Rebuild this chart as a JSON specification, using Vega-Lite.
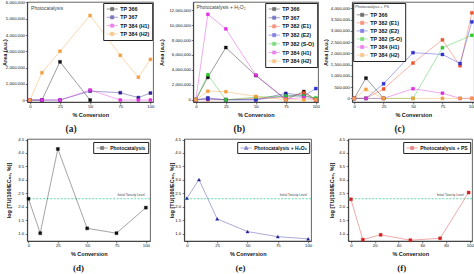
{
  "$schema": "https://vega.github.io/schema/vega-lite/v6.json",
  "padding": {"left": 1.2, "top": 0, "right": 0, "bottom": 0},
  "autosize": {"type": "pad"},
  "background": "white",
  "config": {
    "font": "Liberation Sans",
    "view": {"stroke": "#222", "strokeWidth": 0.7},
    "axis": {"grid": false, "tickCount": 20, "labelOverlap": false, "labelBound": false, "labelFlush": false, "labelFontSize": 4.3, "titleFontSize": 5.5, "titleFontWeight": "bold", "tickSize": 2, "tickWidth": 0.6, "domainWidth": 0.7, "domainColor": "#222", "tickColor": "#222", "labelColor": "#111", "titleColor": "#111", "labelPadding": 0.8, "titlePadding": 0.5},
    "legend": {"strokeColor": "#222", "fillColor": "white", "padding": 2, "symbolSize": 49, "symbolStrokeWidth": 0.7, "symbolOffset": 3, "labelOffset": 4, "labelFontSize": 5.4, "labelFontWeight": "bold", "labelColor": "#111", "rowPadding": 0.3, "titleFontSize": 3.8, "titleFontWeight": "normal", "titleColor": "#444", "titlePadding": 2, "offset": 1, "symbolType": "M-1.6,0H1.6M-0.45,-0.45H0.45V0.45H-0.45Z"},
    "title": {"font": "Liberation Serif", "fontSize": 9.5, "fontWeight": "bold", "color": "#222", "orient": "bottom", "frame": "bounds", "anchor": "middle"}
  },
  "datasets": {
    "area": [
      {"panel": "a", "series": "TP 366", "conv": 0, "area": 0},
      {"panel": "a", "series": "TP 366", "conv": 10, "area": 0},
      {"panel": "a", "series": "TP 366", "conv": 25, "area": 2350000},
      {"panel": "a", "series": "TP 366", "conv": 50, "area": 0},
      {"panel": "a", "series": "TP 367", "conv": 0, "area": 0},
      {"panel": "a", "series": "TP 367", "conv": 10, "area": 0},
      {"panel": "a", "series": "TP 367", "conv": 25, "area": 0},
      {"panel": "a", "series": "TP 367", "conv": 50, "area": 550000},
      {"panel": "a", "series": "TP 367", "conv": 75, "area": 450000},
      {"panel": "a", "series": "TP 367", "conv": 90, "area": 150000},
      {"panel": "a", "series": "TP 367", "conv": 100, "area": 430000},
      {"panel": "a", "series": "TP 384 (H1)", "conv": 0, "area": 0},
      {"panel": "a", "series": "TP 384 (H1)", "conv": 10, "area": 0},
      {"panel": "a", "series": "TP 384 (H1)", "conv": 25, "area": 0},
      {"panel": "a", "series": "TP 384 (H1)", "conv": 50, "area": 620000},
      {"panel": "a", "series": "TP 384 (H1)", "conv": 75, "area": 0},
      {"panel": "a", "series": "TP 384 (H1)", "conv": 90, "area": 0},
      {"panel": "a", "series": "TP 384 (H1)", "conv": 100, "area": 0},
      {"panel": "a", "series": "TP 384 (H2)", "conv": 0, "area": 0},
      {"panel": "a", "series": "TP 384 (H2)", "conv": 10, "area": 1680000},
      {"panel": "a", "series": "TP 384 (H2)", "conv": 25, "area": 3000000},
      {"panel": "a", "series": "TP 384 (H2)", "conv": 50, "area": 5200000},
      {"panel": "a", "series": "TP 384 (H2)", "conv": 75, "area": 2750000},
      {"panel": "a", "series": "TP 384 (H2)", "conv": 90, "area": 1400000},
      {"panel": "a", "series": "TP 384 (H2)", "conv": 100, "area": 2500000},

      {"panel": "b", "series": "TP 366", "conv": 0, "area": 0},
      {"panel": "b", "series": "TP 366", "conv": 10, "area": 3000000},
      {"panel": "b", "series": "TP 366", "conv": 25, "area": 7000000},
      {"panel": "b", "series": "TP 366", "conv": 50, "area": 3250000},
      {"panel": "b", "series": "TP 366", "conv": 75, "area": 0},
      {"panel": "b", "series": "TP 366", "conv": 90, "area": 1100000},
      {"panel": "b", "series": "TP 366", "conv": 100, "area": 0},
      {"panel": "b", "series": "TP 367", "conv": 0, "area": 0},
      {"panel": "b", "series": "TP 367", "conv": 10, "area": 250000},
      {"panel": "b", "series": "TP 367", "conv": 25, "area": 0},
      {"panel": "b", "series": "TP 367", "conv": 50, "area": 0},
      {"panel": "b", "series": "TP 367", "conv": 75, "area": 850000},
      {"panel": "b", "series": "TP 367", "conv": 90, "area": 600000},
      {"panel": "b", "series": "TP 367", "conv": 100, "area": 100000},
      {"panel": "b", "series": "TP 382 (E1)", "conv": 0, "area": 0},
      {"panel": "b", "series": "TP 382 (E1)", "conv": 10, "area": 0},
      {"panel": "b", "series": "TP 382 (E1)", "conv": 25, "area": 0},
      {"panel": "b", "series": "TP 382 (E1)", "conv": 50, "area": 200000},
      {"panel": "b", "series": "TP 382 (E1)", "conv": 75, "area": 300000},
      {"panel": "b", "series": "TP 382 (E1)", "conv": 90, "area": 900000},
      {"panel": "b", "series": "TP 382 (E1)", "conv": 100, "area": 0},
      {"panel": "b", "series": "TP 382 (E2)", "conv": 0, "area": 0},
      {"panel": "b", "series": "TP 382 (E2)", "conv": 10, "area": 100000},
      {"panel": "b", "series": "TP 382 (E2)", "conv": 25, "area": 0},
      {"panel": "b", "series": "TP 382 (E2)", "conv": 50, "area": 0},
      {"panel": "b", "series": "TP 382 (E2)", "conv": 75, "area": 550000},
      {"panel": "b", "series": "TP 382 (E2)", "conv": 90, "area": 500000},
      {"panel": "b", "series": "TP 382 (E2)", "conv": 100, "area": 1500000},
      {"panel": "b", "series": "TP 382 (S-O)", "conv": 0, "area": 0},
      {"panel": "b", "series": "TP 382 (S-O)", "conv": 10, "area": 3350000},
      {"panel": "b", "series": "TP 382 (S-O)", "conv": 25, "area": 0},
      {"panel": "b", "series": "TP 382 (S-O)", "conv": 50, "area": 350000},
      {"panel": "b", "series": "TP 382 (S-O)", "conv": 75, "area": 500000},
      {"panel": "b", "series": "TP 382 (S-O)", "conv": 90, "area": 500000},
      {"panel": "b", "series": "TP 382 (S-O)", "conv": 100, "area": 250000},
      {"panel": "b", "series": "TP 384 (H1)", "conv": 0, "area": 0},
      {"panel": "b", "series": "TP 384 (H1)", "conv": 10, "area": 11450000},
      {"panel": "b", "series": "TP 384 (H1)", "conv": 25, "area": 9500000},
      {"panel": "b", "series": "TP 384 (H1)", "conv": 50, "area": 3300000},
      {"panel": "b", "series": "TP 384 (H1)", "conv": 75, "area": 100000},
      {"panel": "b", "series": "TP 384 (H1)", "conv": 90, "area": 300000},
      {"panel": "b", "series": "TP 384 (H1)", "conv": 100, "area": 0},
      {"panel": "b", "series": "TP 384 (H2)", "conv": 0, "area": 0},
      {"panel": "b", "series": "TP 384 (H2)", "conv": 10, "area": 1150000},
      {"panel": "b", "series": "TP 384 (H2)", "conv": 25, "area": 1080000},
      {"panel": "b", "series": "TP 384 (H2)", "conv": 50, "area": 450000},
      {"panel": "b", "series": "TP 384 (H2)", "conv": 75, "area": 0},
      {"panel": "b", "series": "TP 384 (H2)", "conv": 90, "area": 0},
      {"panel": "b", "series": "TP 384 (H2)", "conv": 100, "area": 0},

      {"panel": "c", "series": "TP 366", "conv": 0, "area": 0},
      {"panel": "c", "series": "TP 366", "conv": 10, "area": 900000},
      {"panel": "c", "series": "TP 366", "conv": 25, "area": 0},
      {"panel": "c", "series": "TP 382 (E1)", "conv": 0, "area": 0},
      {"panel": "c", "series": "TP 382 (E1)", "conv": 10, "area": 0},
      {"panel": "c", "series": "TP 382 (E1)", "conv": 25, "area": 420000},
      {"panel": "c", "series": "TP 382 (E1)", "conv": 50, "area": 1570000},
      {"panel": "c", "series": "TP 382 (E1)", "conv": 75, "area": 2600000},
      {"panel": "c", "series": "TP 382 (E1)", "conv": 90, "area": 1450000},
      {"panel": "c", "series": "TP 382 (E1)", "conv": 100, "area": 3800000},
      {"panel": "c", "series": "TP 382 (E2)", "conv": 0, "area": 0},
      {"panel": "c", "series": "TP 382 (E2)", "conv": 10, "area": 0},
      {"panel": "c", "series": "TP 382 (E2)", "conv": 25, "area": 650000},
      {"panel": "c", "series": "TP 382 (E2)", "conv": 50, "area": 2030000},
      {"panel": "c", "series": "TP 382 (E2)", "conv": 75, "area": 1950000},
      {"panel": "c", "series": "TP 382 (E2)", "conv": 90, "area": 1550000},
      {"panel": "c", "series": "TP 382 (E2)", "conv": 100, "area": 3400000},
      {"panel": "c", "series": "TP 382 (S-O)", "conv": 0, "area": 0},
      {"panel": "c", "series": "TP 382 (S-O)", "conv": 10, "area": 0},
      {"panel": "c", "series": "TP 382 (S-O)", "conv": 25, "area": 0},
      {"panel": "c", "series": "TP 382 (S-O)", "conv": 50, "area": 0},
      {"panel": "c", "series": "TP 382 (S-O)", "conv": 75, "area": 2250000},
      {"panel": "c", "series": "TP 382 (S-O)", "conv": 100, "area": 2800000},
      {"panel": "c", "series": "TP 384 (H1)", "conv": 0, "area": 0},
      {"panel": "c", "series": "TP 384 (H1)", "conv": 10, "area": 0},
      {"panel": "c", "series": "TP 384 (H1)", "conv": 25, "area": 0},
      {"panel": "c", "series": "TP 384 (H1)", "conv": 50, "area": 430000},
      {"panel": "c", "series": "TP 384 (H1)", "conv": 75, "area": 230000},
      {"panel": "c", "series": "TP 384 (H1)", "conv": 90, "area": 0},
      {"panel": "c", "series": "TP 384 (H1)", "conv": 100, "area": 0},
      {"panel": "c", "series": "TP 384 (H2)", "conv": 0, "area": 0},
      {"panel": "c", "series": "TP 384 (H2)", "conv": 10, "area": 400000},
      {"panel": "c", "series": "TP 384 (H2)", "conv": 25, "area": 0},
      {"panel": "c", "series": "TP 384 (H2)", "conv": 50, "area": 0},
      {"panel": "c", "series": "TP 384 (H2)", "conv": 75, "area": 0},
      {"panel": "c", "series": "TP 384 (H2)", "conv": 90, "area": 0},
      {"panel": "c", "series": "TP 384 (H2)", "conv": 100, "area": 0}
    ],
    "tox": [
      {"panel": "d", "series": "Photocatalysis", "conv": 0, "tox": 2.3},
      {"panel": "d", "series": "Photocatalysis", "conv": 10, "tox": 1.02},
      {"panel": "d", "series": "Photocatalysis", "conv": 25, "tox": 4.15},
      {"panel": "d", "series": "Photocatalysis", "conv": 50, "tox": 1.2},
      {"panel": "d", "series": "Photocatalysis", "conv": 75, "tox": 1.02},
      {"panel": "d", "series": "Photocatalysis", "conv": 100, "tox": 1.97},
      {"panel": "e", "series": "Photocatalysis + H₂O₂", "conv": 0, "tox": 2.32},
      {"panel": "e", "series": "Photocatalysis + H₂O₂", "conv": 10, "tox": 3.01},
      {"panel": "e", "series": "Photocatalysis + H₂O₂", "conv": 25, "tox": 1.55},
      {"panel": "e", "series": "Photocatalysis + H₂O₂", "conv": 50, "tox": 1.08},
      {"panel": "e", "series": "Photocatalysis + H₂O₂", "conv": 75, "tox": 0.89},
      {"panel": "e", "series": "Photocatalysis + H₂O₂", "conv": 100, "tox": 0.81},
      {"panel": "f", "series": "Photocatalysis + PS", "conv": 0, "tox": 2.28},
      {"panel": "f", "series": "Photocatalysis + PS", "conv": 10, "tox": 0.78},
      {"panel": "f", "series": "Photocatalysis + PS", "conv": 25, "tox": 0.96},
      {"panel": "f", "series": "Photocatalysis + PS", "conv": 50, "tox": 0.76},
      {"panel": "f", "series": "Photocatalysis + PS", "conv": 75, "tox": 0.83},
      {"panel": "f", "series": "Photocatalysis + PS", "conv": 99, "tox": 2.53}
    ],
    "notes": [
      {"panel": "a", "label": "Photocatalysis"},
      {"panel": "b", "label": "Photocatalysis + H₂O₂"},
      {"panel": "d", "label": "Initial Toxicity Level", "level": 2.3},
      {"panel": "e", "label": "Initial Toxicity Level", "level": 2.3},
      {"panel": "f", "label": "Initial Toxicity Level", "level": 2.3}
    ]
  },
  "spacing": 3,
  "resolve": {"scale": {"x": "independent", "y": "independent", "fill": "independent", "stroke": "independent"}, "legend": {"fill": "independent", "stroke": "independent"}, "axis": {"x": "independent", "y": "independent"}},
  "vconcat": [
    {
      "spacing": 3,
      "resolve": {"scale": {"x": "independent", "y": "independent", "fill": "independent", "stroke": "independent"}, "legend": {"fill": "independent", "stroke": "independent"}, "axis": {"x": "independent", "y": "independent"}},
      "hconcat": [
        {
          "width": 126, "height": 100,
          "title": {"text": "(a)", "offset": 6, "dx": -7},
          "layer": [
            {
              "data": {"name": "area"}, "transform": [{"filter": "datum.panel === 'a'"}],
              "mark": {"type": "line", "strokeWidth": 0.7, "opacity": 0.6},
              "encoding": {
                "x": {"field": "conv", "type": "quantitative", "scale": {"domain": [-2.2, 102.3], "nice": false, "zero": false}, "axis": {"values": [0, 25, 50, 75, 100], "tickCount": 20, "format": "d", "title": "% Conversion", "titlePadding": 3.4, "labelPadding": 0.5}},
                "y": {"field": "area", "type": "quantitative", "scale": {"domain": [-120000, 6030000], "nice": false, "zero": false}, "axis": {"values": [0, 1000000, 2000000, 3000000, 4000000, 5000000, 6000000], "tickCount": 20, "format": ",d", "title": "Area (a.u.)", "minExtent": 19.5, "maxExtent": 19.5}},
                "stroke": {"field": "series", "type": "nominal", "scale": {"domain": ["TP 366", "TP 367", "TP 384 (H1)", "TP 384 (H2)"], "range": ["#111111", "#2a1f8f", "#e030e0", "#f4a040"]}, "legend": {"orient": "top-right", "title": null}}
              }
            },
            {
              "data": {"name": "area"}, "transform": [{"filter": "datum.panel === 'a'"}],
              "mark": {"type": "point", "filled": true, "shape": "square", "size": 9, "strokeWidth": 0.4, "opacity": 1},
              "encoding": {
                "x": {"field": "conv", "type": "quantitative"},
                "y": {"field": "area", "type": "quantitative"},
                "fill": {"field": "series", "type": "nominal", "scale": {"domain": ["TP 366", "TP 367", "TP 384 (H1)", "TP 384 (H2)"], "range": ["#111111", "#2a1f8f", "#e030e0", "#f4a040"]}, "legend": {"orient": "top-right", "title": null}},
                "stroke": {"field": "series", "type": "nominal", "legend": {"orient": "top-right", "title": null}}
              }
            },
            {
              "data": {"name": "notes"}, "transform": [{"filter": "datum.panel === 'a'"}],
              "mark": {"type": "text", "align": "left", "baseline": "middle", "fontSize": 5, "color": "#444"},
              "encoding": {"x": {"datum": 1}, "y": {"datum": 5680000}, "text": {"field": "label"}}
            }
          ]
        },
        {
          "width": 125, "height": 100,
          "title": {"text": "(b)", "offset": 6},
          "layer": [
            {
              "data": {"name": "area"}, "transform": [{"filter": "datum.panel === 'b'"}],
              "mark": {"type": "line", "strokeWidth": 0.7, "opacity": 0.6},
              "encoding": {
                "x": {"field": "conv", "type": "quantitative", "scale": {"domain": [-2.2, 102], "nice": false, "zero": false}, "axis": {"values": [0, 25, 50, 75, 100], "tickCount": 20, "format": "d", "title": "% Conversion", "titlePadding": 3.4, "labelPadding": 0.5}},
                "y": {"field": "area", "type": "quantitative", "scale": {"domain": [-300000, 13100000], "nice": false, "zero": false}, "axis": {"values": [0, 2000000, 4000000, 6000000, 8000000, 10000000, 12000000], "tickCount": 20, "format": ",d", "title": "Area (a.u.)", "minExtent": 28.5, "maxExtent": 28.5}},
                "stroke": {"field": "series", "type": "nominal", "scale": {"domain": ["TP 366", "TP 367", "TP 382 (E1)", "TP 382 (E2)", "TP 382 (S-O)", "TP 384 (H1)", "TP 384 (H2)"], "range": ["#111111", "#1f1f99", "#f0502a", "#3030d0", "#2ec52e", "#e030e0", "#f4a040"]}, "legend": {"orient": "top-right", "title": null, "rowPadding": 0.7}}
              }
            },
            {
              "data": {"name": "area"}, "transform": [{"filter": "datum.panel === 'b'"}],
              "mark": {"type": "point", "filled": true, "shape": "square", "size": 9, "strokeWidth": 0.4, "opacity": 1},
              "encoding": {
                "x": {"field": "conv", "type": "quantitative"},
                "y": {"field": "area", "type": "quantitative"},
                "fill": {"field": "series", "type": "nominal", "scale": {"domain": ["TP 366", "TP 367", "TP 382 (E1)", "TP 382 (E2)", "TP 382 (S-O)", "TP 384 (H1)", "TP 384 (H2)"], "range": ["#111111", "#1f1f99", "#f0502a", "#3030d0", "#2ec52e", "#e030e0", "#f4a040"]}, "legend": {"orient": "top-right", "title": null, "rowPadding": 0.7}},
                "stroke": {"field": "series", "type": "nominal", "legend": {"orient": "top-right", "title": null, "rowPadding": 0.7}}
              }
            },
            {
              "data": {"name": "notes"}, "transform": [{"filter": "datum.panel === 'b'"}],
              "mark": {"type": "text", "align": "left", "baseline": "middle", "fontSize": 5, "color": "#444"},
              "encoding": {"x": {"datum": 0.5}, "y": {"datum": 12470000}, "text": {"field": "label"}}
            }
          ]
        },
        {
          "width": 122, "height": 100,
          "title": {"text": "(c)", "offset": 6},
          "layer": [
            {
              "data": {"name": "area"}, "transform": [{"filter": "datum.panel === 'c'"}],
              "mark": {"type": "line", "strokeWidth": 0.7, "opacity": 0.6},
              "encoding": {
                "x": {"field": "conv", "type": "quantitative", "scale": {"domain": [-1.7, 102], "nice": false, "zero": false}, "axis": {"values": [0, 25, 50, 75, 100], "tickCount": 20, "format": "d", "title": "% Conversion", "titlePadding": 3.4, "labelPadding": 0.5}},
                "y": {"field": "area", "type": "quantitative", "scale": {"domain": [-160000, 4280000], "nice": false, "zero": false}, "axis": {"values": [0, 500000, 1000000, 1500000, 2000000, 2500000, 3000000, 3500000, 4000000], "tickCount": 20, "format": ",d", "title": "Area (a.u.)", "minExtent": 22.7, "maxExtent": 22.7}},
                "stroke": {"field": "series", "type": "nominal", "scale": {"domain": ["TP 366", "TP 382 (E1)", "TP 382 (E2)", "TP 382 (S-O)", "TP 384 (H1)", "TP 384 (H2)"], "range": ["#111111", "#f0502a", "#3030d0", "#2ec52e", "#e030e0", "#f4a040"]}, "legend": {"orient": "top-left", "title": "Photocatalysis + PS", "rowPadding": 0.05}}
              }
            },
            {
              "data": {"name": "area"}, "transform": [{"filter": "datum.panel === 'c'"}],
              "mark": {"type": "point", "filled": true, "shape": "square", "size": 9, "strokeWidth": 0.4, "opacity": 1},
              "encoding": {
                "x": {"field": "conv", "type": "quantitative"},
                "y": {"field": "area", "type": "quantitative"},
                "fill": {"field": "series", "type": "nominal", "scale": {"domain": ["TP 366", "TP 382 (E1)", "TP 382 (E2)", "TP 382 (S-O)", "TP 384 (H1)", "TP 384 (H2)"], "range": ["#111111", "#f0502a", "#3030d0", "#2ec52e", "#e030e0", "#f4a040"]}, "legend": {"orient": "top-left", "title": "Photocatalysis + PS", "rowPadding": 0.05}},
                "stroke": {"field": "series", "type": "nominal", "legend": {"orient": "top-left", "title": "Photocatalysis + PS", "rowPadding": 0.05}}
              }
            }
          ]
        }
      ]
    },
    {
      "spacing": 17,
      "resolve": {"scale": {"x": "independent", "y": "independent", "fill": "independent", "stroke": "independent"}, "legend": {"fill": "independent", "stroke": "independent"}, "axis": {"x": "independent", "y": "independent"}},
      "hconcat": [
        {
          "width": 123, "height": 102,
          "title": {"text": "(d)", "offset": 7, "fontSize": 9},
          "layer": [
            {
              "data": {"name": "notes"}, "transform": [{"filter": "datum.panel === 'd'"}],
              "mark": {"type": "rule", "strokeDash": [2, 1.5], "strokeWidth": 0.8, "color": "#3ccf9f"},
              "encoding": {"y": {"field": "level", "type": "quantitative", "scale": {"domain": [0.73, 4.52], "nice": false, "zero": false}, "axis": {"values": [1, 1.5, 2, 2.5, 3, 3.5, 4, 4.5], "tickCount": 20, "format": ".1f", "title": "log [TU(100/EC₅₀, %)]", "minExtent": 14.2, "maxExtent": 14.2, "titlePadding": 1.5, "labelPadding": 1.5}}}
            },
            {
              "data": {"name": "notes"}, "transform": [{"filter": "datum.panel === 'd'"}],
              "mark": {"type": "text", "align": "right", "baseline": "bottom", "fontSize": 3.2, "color": "#444", "dy": -1.5},
              "encoding": {"x": {"datum": 99}, "y": {"field": "level", "type": "quantitative"}, "text": {"field": "label"}}
            },
            {
              "data": {"name": "tox"}, "transform": [{"filter": "datum.panel === 'd'"}],
              "mark": {"type": "line", "strokeWidth": 0.7, "opacity": 0.55},
              "encoding": {
                "x": {"field": "conv", "type": "quantitative", "scale": {"domain": [-1.1, 103.7], "nice": false, "zero": false}, "axis": {"values": [0, 25, 50, 75, 100], "tickCount": 20, "format": "d", "title": "% Conversion", "titlePadding": 4.3, "labelPadding": 0.4}},
                "y": {"field": "tox", "type": "quantitative"},
                "stroke": {"field": "series", "type": "nominal", "scale": {"domain": ["Photocatalysis"], "range": ["#111111"]}, "legend": {"orient": "top-right", "title": null, "offset": 2.5, "labelFontSize": 5}}
              }
            },
            {
              "data": {"name": "tox"}, "transform": [{"filter": "datum.panel === 'd'"}],
              "mark": {"type": "point", "filled": true, "shape": "square", "size": 9, "strokeWidth": 0.4, "opacity": 1},
              "encoding": {
                "x": {"field": "conv", "type": "quantitative"},
                "y": {"field": "tox", "type": "quantitative"},
                "fill": {"field": "series", "type": "nominal", "scale": {"domain": ["Photocatalysis"], "range": ["#111111"]}, "legend": {"orient": "top-right", "title": null, "offset": 2.5, "labelFontSize": 5}},
                "stroke": {"field": "series", "type": "nominal", "legend": {"orient": "top-right", "title": null, "offset": 2.5, "labelFontSize": 5}}
              }
            }
          ]
        },
        {
          "width": 127, "height": 102,
          "title": {"text": "(e)", "offset": 7, "fontSize": 9},
          "layer": [
            {
              "data": {"name": "notes"}, "transform": [{"filter": "datum.panel === 'e'"}],
              "mark": {"type": "rule", "strokeDash": [2, 1.5], "strokeWidth": 0.8, "color": "#3ccf9f"},
              "encoding": {"y": {"field": "level", "type": "quantitative", "scale": {"domain": [0.73, 4.52], "nice": false, "zero": false}, "axis": {"values": [1, 1.5, 2, 2.5, 3, 3.5, 4, 4.5], "tickCount": 20, "format": ".1f", "title": "log [TU(100/EC₅₀, %)]", "minExtent": 8.6, "maxExtent": 8.6, "titlePadding": 1.5, "labelPadding": 1.5}}}
            },
            {
              "data": {"name": "notes"}, "transform": [{"filter": "datum.panel === 'e'"}],
              "mark": {"type": "text", "align": "right", "baseline": "bottom", "fontSize": 3.2, "color": "#444", "dy": -1.5},
              "encoding": {"x": {"datum": 99}, "y": {"field": "level", "type": "quantitative"}, "text": {"field": "label"}}
            },
            {
              "data": {"name": "tox"}, "transform": [{"filter": "datum.panel === 'e'"}],
              "mark": {"type": "line", "strokeWidth": 0.7, "opacity": 0.55},
              "encoding": {
                "x": {"field": "conv", "type": "quantitative", "scale": {"domain": [-2.2, 102.5], "nice": false, "zero": false}, "axis": {"values": [0, 25, 50, 75, 100], "tickCount": 20, "format": "d", "title": "% Conversion", "titlePadding": 4.3, "labelPadding": 0.4}},
                "y": {"field": "tox", "type": "quantitative"},
                "stroke": {"field": "series", "type": "nominal", "scale": {"domain": ["Photocatalysis + H₂O₂"], "range": ["#1f1f99"]}, "legend": {"orient": "top-right", "title": null, "offset": 2.5, "labelFontSize": 5, "symbolType": "M-1.6,0H1.6M0,-0.55L0.55,0.4H-0.55Z"}}
              }
            },
            {
              "data": {"name": "tox"}, "transform": [{"filter": "datum.panel === 'e'"}],
              "mark": {"type": "point", "filled": true, "shape": "triangle-up", "size": 10, "strokeWidth": 0.4, "opacity": 1},
              "encoding": {
                "x": {"field": "conv", "type": "quantitative"},
                "y": {"field": "tox", "type": "quantitative"},
                "fill": {"field": "series", "type": "nominal", "scale": {"domain": ["Photocatalysis + H₂O₂"], "range": ["#1f1f99"]}, "legend": {"orient": "top-right", "title": null, "offset": 2.5, "labelFontSize": 5, "symbolType": "M-1.6,0H1.6M0,-0.55L0.55,0.4H-0.55Z"}},
                "stroke": {"field": "series", "type": "nominal", "legend": {"orient": "top-right", "title": null, "offset": 2.5, "labelFontSize": 5, "symbolType": "M-1.6,0H1.6M0,-0.55L0.55,0.4H-0.55Z"}}
              }
            }
          ]
        },
        {
          "width": 124, "height": 102,
          "title": {"text": "(f)", "offset": 7, "fontSize": 9},
          "layer": [
            {
              "data": {"name": "notes"}, "transform": [{"filter": "datum.panel === 'f'"}],
              "mark": {"type": "rule", "strokeDash": [2, 1.5], "strokeWidth": 0.8, "color": "#3ccf9f"},
              "encoding": {"y": {"field": "level", "type": "quantitative", "scale": {"domain": [0.73, 4.52], "nice": false, "zero": false}, "axis": {"values": [1, 1.5, 2, 2.5, 3, 3.5, 4, 4.5], "tickCount": 20, "format": ".1f", "title": "log [TU(100/EC₅₀, %)]", "minExtent": 11.7, "maxExtent": 11.7, "titlePadding": 1.5, "labelPadding": 1.5}}}
            },
            {
              "data": {"name": "notes"}, "transform": [{"filter": "datum.panel === 'f'"}],
              "mark": {"type": "text", "align": "right", "baseline": "bottom", "fontSize": 3.2, "color": "#444", "dy": -1.5},
              "encoding": {"x": {"datum": 95}, "y": {"field": "level", "type": "quantitative"}, "text": {"field": "label"}}
            },
            {
              "data": {"name": "tox"}, "transform": [{"filter": "datum.panel === 'f'"}],
              "mark": {"type": "line", "strokeWidth": 0.7, "opacity": 0.55},
              "encoding": {
                "x": {"field": "conv", "type": "quantitative", "scale": {"domain": [-2.3, 102], "nice": false, "zero": false}, "axis": {"values": [0, 20, 40, 60, 80, 100], "tickCount": 20, "format": "d", "title": "% Conversion", "titlePadding": 4.3, "labelPadding": 0.4}},
                "y": {"field": "tox", "type": "quantitative"},
                "stroke": {"field": "series", "type": "nominal", "scale": {"domain": ["Photocatalysis + PS"], "range": ["#d42020"]}, "legend": {"orient": "top-right", "title": null, "offset": 2.5, "labelFontSize": 5}}
              }
            },
            {
              "data": {"name": "tox"}, "transform": [{"filter": "datum.panel === 'f'"}],
              "mark": {"type": "point", "filled": true, "shape": "square", "size": 9, "strokeWidth": 0.4, "opacity": 1},
              "encoding": {
                "x": {"field": "conv", "type": "quantitative"},
                "y": {"field": "tox", "type": "quantitative"},
                "fill": {"field": "series", "type": "nominal", "scale": {"domain": ["Photocatalysis + PS"], "range": ["#d42020"]}, "legend": {"orient": "top-right", "title": null, "offset": 2.5, "labelFontSize": 5}},
                "stroke": {"field": "series", "type": "nominal", "legend": {"orient": "top-right", "title": null, "offset": 2.5, "labelFontSize": 5}}
              }
            }
          ]
        }
      ]
    }
  ]
}
